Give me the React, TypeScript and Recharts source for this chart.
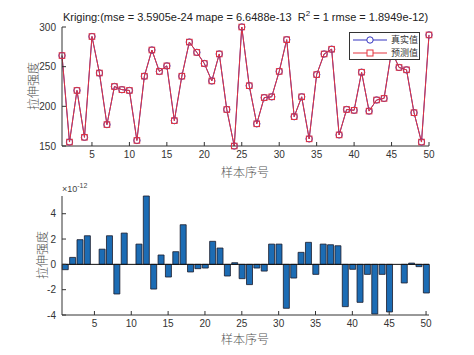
import React from "react";
import {
  LineChart,
  Line,
  BarChart,
  Bar,
  XAxis,
  YAxis,
  Legend,
  ReferenceLine,
} from "recharts";

// sample index 1..50
const samples = [
  1, 2, 3, 4, 5, 6, 7, 8, 9, 10, 11, 12, 13, 14, 15, 16, 17, 18, 19, 20, 21, 22,
  23, 24, 25, 26, 27, 28, 29, 30, 31, 32, 33, 34, 35, 36, 37, 38, 39, 40, 41, 42,
  43, 44, 45, 46, 47, 48, 49, 50,
];

// 真实值 (tensile strength)
const actualValues = [
  264, 155, 220, 161, 288, 242, 177, 225, 221, 220, 157, 238, 271, 244, 251, 182,
  238, 281, 268, 254, 232, 266, 196, 150, 300, 226, 178, 211, 212, 244, 284, 187,
  212, 159, 240, 266, 272, 164, 196, 195, 243, 194, 208, 210, 270, 249, 246, 192,
  155, 290,
];

// 预测值 (same as actual at this scale)
const predictedValues = [
  264, 155, 220, 161, 288, 242, 177, 225, 221, 220, 157, 238, 271, 244, 251, 182,
  238, 281, 268, 254, 232, 266, 196, 150, 300, 226, 178, 211, 212, 244, 284, 187,
  212, 159, 240, 266, 272, 164, 196, 195, 243, 194, 208, 210, 270, 249, 246, 192,
  155, 290,
];

// error, in units of 1e-12
const errorE12 = [
  -0.42, 0.55, 1.95, 2.26, 0, 1.2, 2.26, -2.34, 2.47, 0, 1.6, 5.4, -1.95, 0.74,
  -1.0, 1.0, 3.13, -0.6, -0.34, -0.29, 1.82, 1.29, -0.92, 0.13, -1.13, -1.6,
  -0.29, -0.53, 1.6, 1.6, -3.47, -1.08, 0.95, 1.74, -0.79, 1.6, 1.55, 1.47,
  -3.34, -0.39, -3.0, -0.79, -3.92, -0.79, -3.76, 0, -1.47, 0.1, -0.18, -2.26,
];

const xTicks = [5, 10, 15, 20, 25, 30, 35, 40, 45, 50];
const topYTicks = [150, 200, 250, 300];
const bottomYTicks = [-4, -2, 0, 2, 4];

const BLUE = "#3434c0";
const RED = "#e3343f";
const AXIS = "#333";
const SANS = "'Liberation Sans', Arial, sans-serif";
const CJK = "'Noto Sans CJK SC', sans-serif";

const lineData = samples.map((x, i) => ({
  x,
  actual: actualValues[i],
  predicted: predictedValues[i],
}));
const barData = samples.map((x, i) => ({ x, err: errorE12[i] }));

const tickStyle = { fill: "#333", fontSize: 10, fontFamily: SANS };

const SquareDot = (p: any) => {
  if (p.cx == null || p.cy == null) return <g key={`sq-${p.index}`} />;
  return (
    <rect
      key={`sq-${p.index}`}
      x={p.cx - 2.8}
      y={p.cy - 2.8}
      width={5.6}
      height={5.6}
      fill="none"
      stroke={RED}
      strokeWidth={1}
    />
  );
};

const LegendBox = () => (
  <div
    style={{
      width: 71,
      height: 28,
      boxSizing: "border-box",
      border: "1px solid #333",
      background: "#fff",
      fontFamily: CJK,
      fontSize: 9,
      color: "#333",
      paddingTop: 1,
      whiteSpace: "nowrap",
      overflow: "hidden",
    }}
  >
    {[
      { name: "真实值", color: BLUE, square: false },
      { name: "预测值", color: RED, square: true },
    ].map((item) => (
      <div
        key={item.name}
        style={{ display: "flex", alignItems: "center", height: 12.5 }}
      >
        <svg width={36} height={12} style={{ marginLeft: 2, flexShrink: 0 }}>
          <line x1={1} y1={6} x2={35} y2={6} stroke={item.color} strokeWidth={1.2} />
          {item.square ? (
            <rect x={15} y={3} width={6} height={6} fill="#fff" stroke={item.color} />
          ) : (
            <circle cx={18} cy={6} r={3.2} fill="#fff" stroke={item.color} />
          )}
        </svg>
        <span style={{ marginLeft: 3, lineHeight: "12px" }}>{item.name}</span>
      </div>
    ))}
  </div>
);

const App: React.FC = () => {
  return (
    <div
      style={{
        position: "absolute",
        left: 0,
        top: 0,
        width: 474,
        height: 355,
        background: "#fff",
        overflow: "hidden",
      }}
    >
      {/* title */}
      <div
        style={{
          position: "absolute",
          left: 0,
          width: 491,
          top: 9,
          textAlign: "center",
          fontFamily: SANS,
          fontSize: 11,
          color: "#222",
          whiteSpace: "pre",
        }}
      >
        Kriging:(mse = 3.5905e-24 mape = 6.6488e-13  R
        <sup style={{ fontSize: 8 }}>2</sup> = 1 rmse = 1.8949e-12)
      </div>

      {/* upper plot */}
      <div style={{ position: "absolute", left: 0, top: 0 }}>
        <LineChart
          width={474}
          height={180}
          data={lineData}
          margin={{ top: 27, right: 45, left: 32, bottom: 4 }}
        >
          <XAxis
            xAxisId="b"
            dataKey="x"
            type="number"
            domain={[1, 50]}
            ticks={xTicks}
            stroke={AXIS}
            tick={tickStyle}
            tickSize={-4}
            tickMargin={9}
            height={30}
          />
          <XAxis
            xAxisId="t"
            orientation="top"
            dataKey="x"
            type="number"
            domain={[1, 50]}
            ticks={xTicks}
            stroke={AXIS}
            tick={false}
            tickSize={-4}
            height={0}
          />
          <YAxis
            yAxisId="l"
            domain={[150, 300]}
            ticks={topYTicks}
            stroke={AXIS}
            tick={tickStyle}
            tickSize={-4}
            tickMargin={10}
            width={30}
          />
          <YAxis
            yAxisId="r"
            orientation="right"
            domain={[150, 300]}
            ticks={topYTicks}
            stroke={AXIS}
            tick={false}
            tickSize={-4}
            width={0}
          />
          <Line
            xAxisId="b"
            yAxisId="l"
            dataKey="actual"
            name="真实值"
            type="linear"
            stroke={BLUE}
            strokeWidth={1}
            dot={{ r: 3.2, stroke: BLUE, strokeWidth: 1, fill: "none" }}
            isAnimationActive={false}
          />
          <Line
            xAxisId="b"
            yAxisId="l"
            dataKey="predicted"
            name="预测值"
            type="linear"
            stroke={RED}
            strokeWidth={1}
            dot={SquareDot}
            isAnimationActive={false}
          />
          <Legend
            layout="horizontal"
            verticalAlign="middle"
            align="center"
            content={LegendBox}
            wrapperStyle={{ left: 349, top: 32, width: 71, height: 28 }}
          />
        </LineChart>
      </div>

      {/* lower plot */}
      <div style={{ position: "absolute", left: 0, top: 175 }}>
        <BarChart
          width={474}
          height={180}
          data={barData}
          margin={{ top: 21, right: 45, left: 32, bottom: 10 }}
        >
          <XAxis
            xAxisId="b"
            dataKey="x"
            type="number"
            domain={[0.6, 50.4]}
            ticks={xTicks}
            stroke={AXIS}
            tick={tickStyle}
            tickSize={-4}
            tickMargin={9}
            height={30}
          />
          <XAxis
            xAxisId="t"
            orientation="top"
            dataKey="x"
            type="number"
            domain={[0.6, 50.4]}
            ticks={xTicks}
            stroke={AXIS}
            tick={false}
            tickSize={-4}
            height={0}
          />
          <YAxis
            yAxisId="l"
            domain={[-4, 5.4]}
            ticks={bottomYTicks}
            stroke={AXIS}
            tick={tickStyle}
            tickSize={-4}
            tickMargin={10}
            width={30}
          />
          <YAxis
            yAxisId="r"
            orientation="right"
            domain={[-4, 5.4]}
            ticks={bottomYTicks}
            stroke={AXIS}
            tick={false}
            tickSize={-4}
            width={0}
          />
          <Bar
            xAxisId="b"
            yAxisId="l"
            dataKey="err"
            barSize={6}
            fill="#1c6cb4"
            stroke="#1a1a2a"
            strokeWidth={0.8}
            isAnimationActive={false}
          />
          <ReferenceLine xAxisId="b" yAxisId="l" y={0} stroke="#111" strokeWidth={1} />
        </BarChart>
      </div>

      {/* exponent */}
      <div
        style={{
          position: "absolute",
          left: 62,
          top: 182,
          fontFamily: SANS,
          fontSize: 9,
          color: "#444",
        }}
      >
        ×10<sup style={{ fontSize: 7 }}>-12</sup>
      </div>

      {/* axis labels */}
      {[
        { x: 245, y: 171, text: "样本序号" },
        { x: 245, y: 338, text: "样本序号" },
      ].map((l, i) => (
        <div
          key={i}
          style={{
            position: "absolute",
            left: l.x - 40,
            width: 80,
            top: l.y - 8,
            textAlign: "center",
            fontFamily: CJK,
            fontSize: 12,
            fontWeight: 300,
            color: "#555",
          }}
        >
          {l.text}
        </div>
      ))}
      {[
        { x: 32, y: 86 },
        { x: 41, y: 255 },
      ].map((l, i) => (
        <div
          key={i}
          style={{
            position: "absolute",
            left: l.x - 40,
            width: 80,
            top: l.y - 8,
            height: 16,
            textAlign: "center",
            fontFamily: CJK,
            fontSize: 12,
            fontWeight: 300,
            color: "#555",
            transform: "rotate(-90deg)",
          }}
        >
          拉伸强度
        </div>
      ))}
    </div>
  );
};

export default App;
